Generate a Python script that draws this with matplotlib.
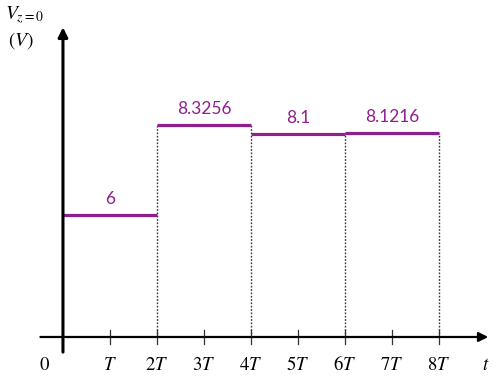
import matplotlib
matplotlib.use("Agg")
import matplotlib.pyplot as plt

plt.rcParams["mathtext.fontset"] = "stix"

# step levels over [0,2T], [2T,4T], [4T,6T], [6T,8T]
edges = [0, 2, 4, 6, 8]
levels = [6, 8.3256, 8.1, 8.1216]
level_labels = ["6", "8.3256", "8.1", "8.1216"]
tick_pos = [1, 2, 3, 4, 5, 6, 7, 8]
tick_labels = ["$T$", "$2T$", "$3T$", "$4T$", "$5T$", "$6T$", "$7T$", "$8T$"]

purple = "#8e1f8e"

fig = plt.figure(figsize=(5, 3.82), dpi=100)
ax = fig.add_axes([0, 0, 1, 1])
ax.set_xlim(-1.34, 9.30)
ax.set_ylim(1.685, 11.556)
ax.axis("off")

y0 = 2.848  # where the t axis sits

# axes with arrows
ax.annotate("", xy=(9.05, y0), xytext=(-0.48, y0),
            arrowprops=dict(arrowstyle="-|>", lw=1.6, color="black",
                            mutation_scale=14, shrinkA=0, shrinkB=0))
ax.annotate("", xy=(0, 10.85), xytext=(0, y0 - 0.39),
            arrowprops=dict(arrowstyle="-|>", lw=2.2, color="black",
                            mutation_scale=14, shrinkA=0, shrinkB=0))

# ticks
for x in tick_pos:
    ax.plot([x, x], [y0 - 0.18, y0 + 0.18], color="#333333", lw=0.9)
for x, lab in zip(tick_pos, tick_labels):
    ax.text(x, y0 - 0.72, lab, ha="center", va="center", fontsize=13.5)
ax.text(-0.4, y0 - 0.72, "$0$", ha="center", va="center", fontsize=13.5)
ax.text(9.0, y0 - 0.72, "$t$", ha="center", va="center", fontsize=13.5)

# dotted verticals at the step edges
for i, x in enumerate(edges[1:], start=1):
    left = levels[i - 1]
    right = levels[i] if i < len(levels) else left
    top = max(left, right)
    ax.plot([x, x], [y0, top], color="#333333", lw=1.0, ls=(0, (1.2, 1.2)))

# step segments and labels
for i, (v, lab) in enumerate(zip(levels, level_labels)):
    x1, x2 = edges[i], edges[i + 1]
    ax.plot([x1, x2], [v, v], color=purple, lw=2.3, solid_capstyle="butt")
    ax.text((x1 + x2) / 2, v + 0.2, lab, ha="center", va="bottom",
            color=purple, fontsize=12.5, family="Lato")

# y label
ax.text(-0.81, 11.17, "$V_{z=0}$", ha="center", va="center", fontsize=14)
ax.text(-0.89, 10.52, "$(V)$", ha="center", va="center", fontsize=14)

fig.savefig("out.png", dpi=100)
